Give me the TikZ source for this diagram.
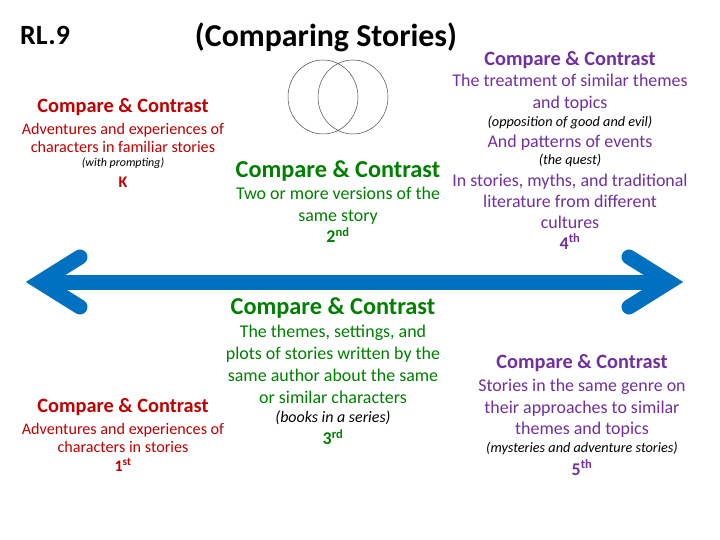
\documentclass[tikz,border=0pt]{standalone}
\usepackage{fontspec}
\setmainfont{Carlito}
\usepackage{tikz}
\definecolor{ccred}{RGB}{192,0,0}
\definecolor{ccgreen}{RGB}{0,128,0}
\definecolor{ccpurple}{RGB}{112,48,160}
\definecolor{ccblue}{RGB}{0,112,192}

\begin{document}
\begin{tikzpicture}[x=1bp,y=-1bp]
    \newcommand{\headfont}[0]{\fontsize{20.4}{24}\selectfont\bfseries}
    \newcommand{\bigheadfont}[0]{\fontsize{24.4}{28}\selectfont\bfseries}
    \newcommand{\remark}[2]{{\fontsize{#1}{#1}\selectfont\itshape\color{black} #2}}
    \newcommand{\grade}[2]{{\bfseries #1\textsuperscript{#2}}}

    \tikzstyle{block}=[
      align=center,
      anchor=north,
      inner sep=0pt,
    ]
    \tikzstyle{venn}=[
      draw=black!70,
      line width=0.5bp,
    ]
    \tikzstyle{bluearrow}=[
      draw=ccblue,
      line width=15bp,
      line join=miter,
    ]

    \useasboundingbox[fill=white] (0,0) rectangle (720,540);

    \node[anchor=west,inner sep=0pt,font=\fontsize{28}{30}\selectfont\bfseries] (level) at (20,35) {RL.9};
    \node[inner sep=0pt,font=\fontsize{32}{34}\selectfont\bfseries] (title) at (326,37) {(Comparing Stories)};

    \draw[venn] (323,97) ellipse [x radius=35, y radius=37];
    \draw[venn] (353,97) ellipse [x radius=35, y radius=37];

    \node[block,text=ccred,font=\fontsize{16.2}{19}\selectfont] (gradek) at (123,98.3) {
      {\headfont Compare \& Contrast}\\[2.6pt]
      Adventures and experiences of\\
      characters in familiar stories\\[-5.3pt]
      \remark{12}{(with prompting)}\\[2.2pt]
      {\bfseries K}};

    \node[block,text=ccgreen,font=\fontsize{18}{22}\selectfont] (gradetwo) at (338,161) {
      {\bigheadfont Compare \& Contrast}\\
      Two or more versions of the\\
      same story\\[-1pt]
      \grade{2}{nd}};

    \node[block,text=ccpurple,font=\fontsize{18}{21}\selectfont] (gradefour) at (570,51.3) {
      {\headfont Compare \& Contrast}\\[0.3pt]
      The treatment of similar themes\\[1pt]
      and topics\\[-3.3pt]
      \remark{14.3}{(opposition of good and evil)}\\[0.3pt]
      And patterns of events\\[-4.3pt]
      \remark{14.3}{(the quest)}\\[1.3pt]
      In stories, myths, and traditional\\
      literature from different\\
      cultures\\
      \grade{4}{th}};

    % the double headed arrow
    \coordinate (leftend) at (40,282);
    \coordinate (rightend) at (669,282);
    \draw[bluearrow] (leftend) -- (rightend);
    \draw[bluearrow,line cap=round] ([shift={(40,-25)}]leftend) -- (leftend) -- ([shift={(40,25)}]leftend);
    \draw[bluearrow,line cap=round] ([shift={(-40,-25)}]rightend) -- (rightend) -- ([shift={(-40,25)}]rightend);

    \node[block,text=ccgreen,font=\fontsize{18}{22}\selectfont] (gradethree) at (333,298) {
      {\bigheadfont Compare \& Contrast}\\[1pt]
      The themes, settings, and\\
      plots of stories written by the\\
      same author about the same\\
      or similar characters\\[-2.7pt]
      \remark{16}{(books in a series)}\\[-0.5pt]
      \grade{3}{rd}};

    \node[block,text=ccred,font=\fontsize{16.2}{19}\selectfont] (gradeone) at (123,398.3) {
      {\headfont Compare \& Contrast}\\[2.6pt]
      Adventures and experiences of\\
      characters in stories\\
      \grade{1}{st}};

    \node[block,text=ccpurple,font=\fontsize{18}{22}\selectfont] (gradefive) at (582,354.3) {
      {\headfont Compare \& Contrast}\\[1.3pt]
      Stories in the same genre on\\
      their approaches to similar\\[-1pt]
      themes and topics\\[-4.3pt]
      \remark{14.3}{(mysteries and adventure stories)}\\[1.1pt]
      \grade{5}{th}};
  \end{tikzpicture}
\end{document}
